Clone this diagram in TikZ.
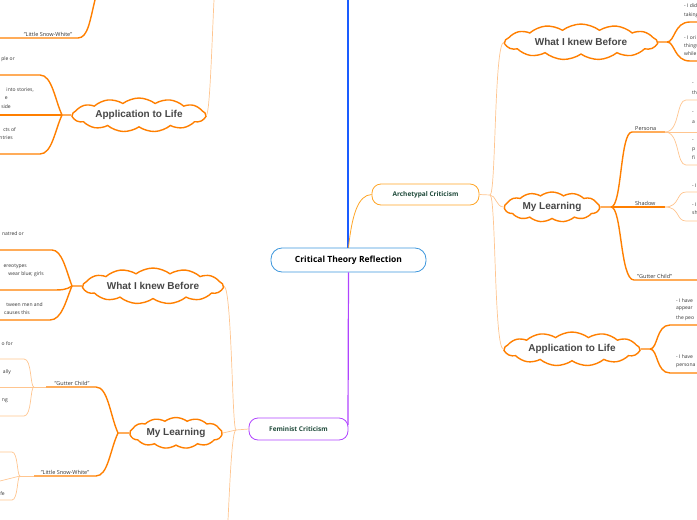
\documentclass[tikz,border=0pt]{standalone}
\usepackage{fontspec}
\setmainfont{Open Sans}
\newfontfamily\cloudfont{Liberation Sans}
\usetikzlibrary{shapes.symbols}
\definecolor{org}{HTML}{FF7F00}
\definecolor{lorg}{HTML}{FFC58F}
\definecolor{blu}{HTML}{1A5CFF}
\definecolor{pur}{HTML}{B044FF}
\definecolor{cbl}{HTML}{3C96DC}
\definecolor{aor}{HTML}{FFA526}
\definecolor{dgr}{HTML}{1F4A3A}
\tikzset{
 cl/.style={cloud,cloud puffs=13,cloud puff arc=75,aspect=5,draw=org,line width=1.4pt,fill=white,inner sep=0pt,font=\cloudfont\bfseries\fontsize{10}{12}\selectfont,text=black!72},
 thick/.style={draw=org,line width=1.4pt},
 thin/.style={draw=lorg,line width=0.7pt},
 lf/.style={font=\fontsize{5}{6}\selectfont,text=black!80,inner sep=0pt},
 lab/.style={font=\fontsize{5.5}{6}\selectfont,text=black!80,inner sep=1pt}
}
\begin{document}
\begin{tikzpicture}[x=1pt,y=-1pt]
\useasboundingbox (0,0) rectangle (697,520);
% main lines
\draw[blu,line width=1.2pt] (348,0) coordinate(topb) -- (348,248);
\node[draw=cbl,rounded corners=11pt,line width=0.8pt,minimum width=155pt,minimum height=24pt,font=\bfseries\fontsize{8.5}{10}\selectfont] (ctr) at (348.5,260) {Critical Theory Reflection};
\node[draw=aor,rounded corners=9pt,line width=0.8pt,minimum width=107pt,minimum height=21pt,font=\bfseries\fontsize{6.5}{8}\selectfont,text=dgr] (arc) at (425.5,194.5) {Archetypal Criticism};
\node[draw=pur,rounded corners=9pt,line width=0.8pt,minimum width=99pt,minimum height=22pt,font=\bfseries\fontsize{6.5}{8}\selectfont,text=dgr] (fem) at (298.5,429) {Feminist Criticism};
\draw[pur,line width=1.2pt] (ctr.south) -- (348,425);
\draw[aor,line width=0.8pt] (ctr.north) .. controls (352,215) and (358,195) .. (arc.west);
% right clouds
\node[cl,minimum width=152pt,minimum height=30pt] (wkbR) at (581,42) {What I knew Before};
\node[cl,minimum width=95pt,minimum height=30pt] (mlR) at (552,207) {My Learning};
\node[cl,minimum width=135pt,minimum height=32pt] (atlR) at (572,349) {Application to Life};
\coordinate (aj) at (490,195);
\draw[thin] (arc.east) -- (aj);
\draw[thin] (aj) .. controls (496,195) and (494,45) .. (wkbR.west);
\draw[thin] (aj) .. controls (496,195) and (496,207) .. (mlR.west);
\draw[thin] (aj) .. controls (496,195) and (494,349) .. (atlR.west);
% WKB right leaves
\coordinate (wf) at (667,42);
\draw[thick] (wkbR.east) -- (wf) .. controls (675,42) and (674,22) .. (690,22) -- (697,22);
\draw[thick] (wf) .. controls (675,42) and (674,61) .. (690,61) -- (697,61);
\node[lf,anchor=west] (r1a) at (684,6) {- I did};
\node[lf,anchor=west] (r1b) at (684,15) {taking};
\node[lf,anchor=west] (r2a) at (684,38) {- I ori};
\node[lf,anchor=west] (r2b) at (684,46) {things};
\node[lf,anchor=west] (r2c) at (684,54) {while};
% ML right
\coordinate (mf) at (611,207);
\draw[thick] (mlR.east) -- (mf) .. controls (622,207) and (620,132) .. (632,132) -- (665,132) coordinate (per);
\draw[thick] (mf) -- (665,207) coordinate (sha);
\draw[thick] (mf) .. controls (622,207) and (620,280) .. (634,280) -- (697,280);
\node[lab,anchor=south west] (perL) at (634,132) {Persona};
\node[lab,anchor=south west] (shaL) at (634,207) {Shadow};
\node[lab,anchor=south west] (gcL) at (636,280) {"Gutter Child"};
\draw[thin] (per) .. controls (680,132) and (676,100) .. (686,100) -- (697,100);
\draw[thin] (per) -- (697,132);
\draw[thin] (per) .. controls (680,132) and (676,165) .. (686,165) -- (697,165);
\draw[thin] (sha) .. controls (680,207) and (676,192) .. (686,192) -- (697,192);
\draw[thin] (sha) .. controls (680,207) and (676,221) .. (686,221) -- (697,221);
\node[lf,anchor=west] (p1a) at (692,84) {-};
\node[lf,anchor=west] (p1b) at (692,93) {th};
\node[lf,anchor=west] (p2a) at (692,113) {-};
\node[lf,anchor=west] (p2b) at (692,122) {a};
\node[lf,anchor=west] (p3a) at (692,141) {-};
\node[lf,anchor=west] (p3b) at (692,150) {p};
\node[lf,anchor=west] (p3c) at (692,158) {fi};
\node[lf,anchor=west] (s1a) at (692,186) {- I};
\node[lf,anchor=west] (s2a) at (692,205) {- I};
\node[lf,anchor=west] (s2b) at (692,213) {sh};
% ATL right
\coordinate (af) at (650,349);
\draw[thick] (atlR.east) -- (af) .. controls (658,349) and (656,325) .. (670,325) -- (697,325);
\draw[thick] (af) .. controls (658,349) and (656,373) .. (670,373) -- (697,373);
\node[lf,anchor=west] (a1a) at (676,301) {- I have};
\node[lf,anchor=west] (a1b) at (676,309) {appear};
\node[lf,anchor=west] (a1c) at (676,318) {the peo};
\node[lf,anchor=west] (a2a) at (676,357) {- I have};
\node[lf,anchor=west] (a2b) at (676,366) {persona};
% left clouds
\node[cl,minimum width=133pt,minimum height=31pt] (atlL) at (139,115) {Application to Life};
\node[cl,minimum width=140pt,minimum height=32pt] (wkbL) at (153,286) {What I knew Before};
\node[cl,minimum width=92pt,minimum height=31pt] (mlL) at (176,433) {My Learning};
\coordinate (fj) at (236,430);
\coordinate (fbot) at (228,520);
\coordinate (ftop) at (214,0);
\draw[thin] (fem.west) -- (fj);
\draw[thin] (fj) .. controls (232,430) and (232,290) .. (wkbL.east);
\draw[thin] (fj) -- (mlL.east);
\draw[thin] (fj) .. controls (232,430) and (230,480) .. (fbot);
\draw[thin] (atlL.east) .. controls (210,110) and (212,40) .. (ftop);
% top-left
\draw[thick] (95,0) .. controls (90,20) and (88,38) .. (78,38) -- (0,38);
\node[lab,anchor=south] (lsw1) at (48,38) {"Little Snow-White"};
% left ATL leaves
\coordinate (lf1) at (62,115);
\draw[thick] (atlL.west) -- (lf1) .. controls (55,100) and (52,75) .. (40,75) -- (0,75);
\draw[thick] (lf1) -- (0,115);
\draw[thick] (lf1) .. controls (55,130) and (52,154) .. (40,154) -- (0,154);
\node[lf,anchor=east] (l1) at (15,59) {ple or};
\node[lf,anchor=east] (l2) at (34,90) {into stories,};
\node[lf,anchor=east] (l3) at (8,98) {e};
\node[lf,anchor=east] (l4) at (11,107) {side};
\node[lf,anchor=east] (l5) at (16,130) {cts of};
\node[lf,anchor=east] (l6) at (13,138) {ntries};
% left WKB leaves
\coordinate (lf2) at (72,286);
\draw[thick] (wkbL.west) -- (lf2) .. controls (66,270) and (62,250) .. (52,250) -- (0,250);
\draw[thick] (lf2) .. controls (66,290) and (62,290) .. (50,290) -- (0,290);
\draw[thick] (lf2) .. controls (66,300) and (62,320) .. (50,320) -- (0,320);
\node[lf,anchor=east] (w1) at (24,234) {natred or};
\node[lf,anchor=east] (w2) at (27,266) {ereotypes};
\node[lf,anchor=east] (w3) at (44,274) {wear blue; girls};
\node[lf,anchor=east] (w4) at (43,305) {tween men and};
\node[lf,anchor=east] (w5) at (30,313) {causes this};
% left ML
\coordinate (lf3) at (118,433);
\draw[thick] (mlL.west) -- (lf3) .. controls (110,415) and (108,387) .. (96,387) -- (46,387);
\draw[thick] (lf3) .. controls (110,450) and (108,476) .. (96,476) -- (34,476);
\draw[thin] (46,387) coordinate (gc) -- (34,387);
\draw[thin] (34,476) coordinate (sw) -- (20,476);
\node[lab,anchor=south] (gcLL) at (72,387) {"Gutter Child"};
\node[lab,anchor=south] (swL) at (65,476) {"Little Snow-White"};
\draw[thin] (34,387) .. controls (30,387) and (32,359) .. (24,359) -- (0,359);
\draw[thin] (34,387) -- (0,387);
\draw[thin] (34,387) .. controls (30,387) and (32,416) .. (24,416) -- (0,416);
\draw[thin] (20,476) .. controls (17,476) and (18,452) .. (12,452) -- (0,452);
\draw[thin] (20,476) -- (0,481);
\draw[thin] (20,476) .. controls (17,476) and (18,500) .. (12,500) -- (0,500);
\node[lf,anchor=east] (g1) at (13,344) {o for};
\node[lf,anchor=east] (g2) at (11,372) {ally};
\node[lf,anchor=east] (g3) at (8,401) {ng};
\node[lf,anchor=east] (g4) at (5,494) {fe};
\end{tikzpicture}
\end{document}
